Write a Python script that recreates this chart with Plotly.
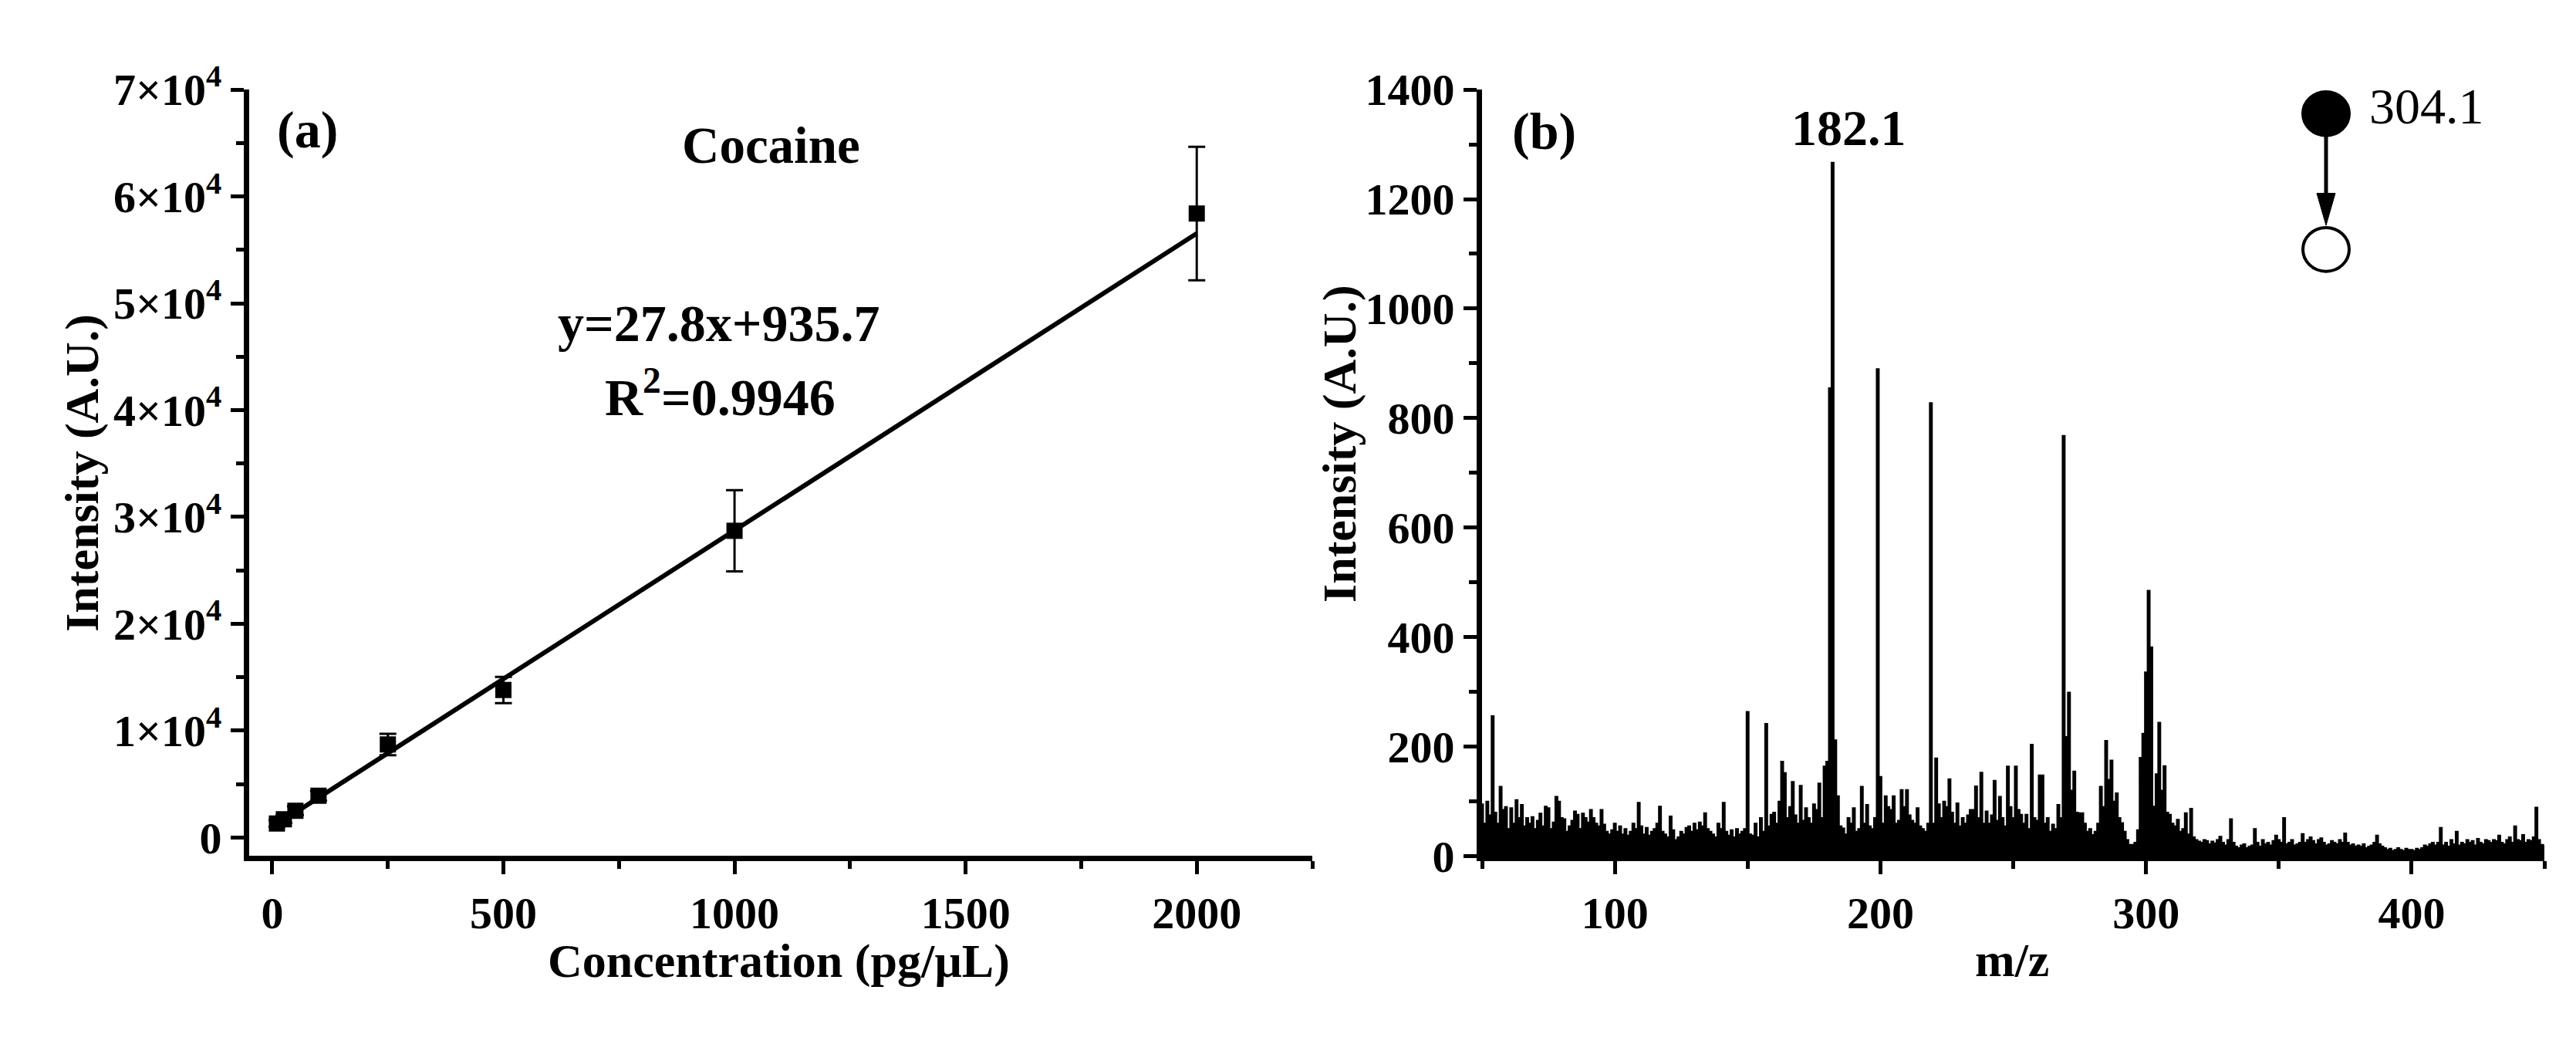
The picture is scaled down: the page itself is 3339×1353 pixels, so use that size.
import plotly.graph_objects as go

W, H = 3339, 1353
FONT = "Liberation Serif"

# ---------------- Panel (a): calibration curve ----------------
conc = [10, 25, 50, 100, 250, 500, 1000, 2000]
intensity_a = [1300, 1700, 2500, 3900, 8700, 13800, 28700, 58400]
error_a = [300, 350, 400, 450, 1000, 1230, 3800, 6250]
fit_x = [5, 2000]
fit_y = [1075, 56536]

ya_tickvals = [0, 10000, 20000, 30000, 40000, 50000, 60000, 70000]
ya_ticktext = ["0", "1×10<sup>4</sup>", "2×10<sup>4</sup>", "3×10<sup>4</sup>",
               "4×10<sup>4</sup>", "5×10<sup>4</sup>", "6×10<sup>4</sup>", "7×10<sup>4</sup>"]
xa_tickvals = [0, 500, 1000, 1500, 2000]
xa_minor = [250, 750, 1250, 1750, 2250]
ya_minor = [5000, 15000, 25000, 35000, 45000, 55000, 65000]

# ---------------- Panel (b): MS/MS spectrum ----------------
mz_first = 50
spec_rows = [
    [95, 60, 100, 75, 256, 80, 60, 127, 85, 90],      # 50
    [50, 88, 60, 103, 70, 94, 55, 70, 60, 72],        # 60
    [50, 65, 78, 55, 91, 88, 50, 62, 109, 100],       # 70
    [70, 68, 45, 55, 65, 82, 76, 50, 78, 70],         # 80
    [62, 85, 70, 60, 55, 85, 58, 45, 40, 48],         # 90
    [60, 45, 55, 40, 50, 38, 45, 60, 50, 98],         # 100
    [55, 40, 52, 38, 45, 50, 60, 91, 45, 40],         # 110
    [35, 73, 48, 30, 35, 45, 40, 52, 55, 45],         # 120
    [60, 48, 62, 55, 79, 50, 45, 40, 35, 60],         # 130
    [50, 98, 45, 38, 48, 35, 50, 40, 45, 50],         # 140
    [264, 40, 38, 60, 35, 70, 45, 242, 55, 76],       # 150
    [80, 60, 100, 173, 152, 70, 90, 136, 75, 60],     # 160
    [129, 65, 88, 70, 60, 95, 85, 133, 70, 164],      # 170
    [173, 855, 1267, 212, 110, 55, 51, 40, 70, 60],   # 180
    [88, 45, 50, 127, 60, 94, 55, 50, 70, 890],       # 190
    [145, 60, 110, 90, 85, 110, 60, 65, 121, 90],     # 200
    [121, 75, 65, 60, 88, 55, 50, 45, 60, 828],       # 210
    [60, 179, 95, 70, 100, 90, 141, 80, 60, 97],      # 220
    [55, 70, 60, 75, 85, 85, 128, 70, 153, 60],       # 230
    [82, 60, 75, 138, 65, 109, 70, 55, 164, 90],      # 240
    [70, 164, 85, 76, 60, 76, 50, 204, 70, 65],       # 250
    [148, 148, 60, 70, 45, 58, 50, 94, 70, 768],      # 260
    [218, 299, 120, 155, 80, 79, 79, 60, 45, 50],     # 270
    [39, 45, 60, 127, 90, 211, 140, 175, 100, 115],   # 280
    [70, 61, 45, 30, 21, 21, 25, 48, 180, 224],       # 290
    [336, 485, 382, 91, 150, 244, 120, 165, 80, 76],  # 300
    [60, 55, 67, 45, 50, 79, 40, 87, 35, 30],         # 310
    [27, 25, 30, 28, 22, 27, 24, 30, 36, 25],         # 320
    [20, 30, 68, 25, 18, 15, 20, 22, 15, 18],         # 330
    [20, 50, 25, 18, 30, 22, 25, 20, 28, 38],         # 340
    [30, 25, 70, 22, 25, 30, 20, 22, 25, 41],         # 350
    [25, 30, 35, 28, 22, 30, 33, 25, 20, 22],         # 360
    [28, 25, 22, 30, 25, 42, 25, 20, 22, 18],         # 370
    [20, 18, 22, 15, 18, 20, 25, 38, 22, 18],         # 380
    [15, 12, 14, 10, 12, 15, 12, 10, 14, 12],         # 390
    [12, 10, 14, 12, 15, 20, 18, 22, 25, 20],         # 400
    [25, 52, 20, 25, 18, 30, 22, 45, 20, 25],         # 410
    [22, 30, 25, 28, 20, 32, 25, 22, 30, 28],         # 420
    [25, 30, 28, 38, 25, 22, 30, 35, 25, 55],         # 430
    [30, 28, 39, 25, 30, 28, 35, 89, 30, 21],         # 440
    [20],                                             # 450
]
spec_intensity = [v for row in spec_rows for v in row]
mz = list(range(mz_first, mz_first + len(spec_intensity)))

xb_tickvals = [100, 200, 300, 400]
xb_minor = [50, 150, 250, 350, 450]
yb_tickvals = [0, 200, 400, 600, 800, 1000, 1200, 1400]
yb_minor = [100, 300, 500, 700, 900, 1100, 1300]

# ---------------- helpers (pixel -> paper) ----------------
def fx(px):
    return px / W

def fy(py):
    return 1 - py / H

AX_LEFT_A, AX_RIGHT_A = 315, 1693
AX_LEFT_B, AX_RIGHT_B = 1913, 3290
AX_TOP, AX_BOTTOM = 72, 1122

fig = go.Figure()

fig.add_trace(go.Scatter(
    x=fit_x, y=fit_y, mode="lines",
    line=dict(color="black", width=6),
    xaxis="x", yaxis="y", showlegend=False, hoverinfo="skip"))

fig.add_trace(go.Scatter(
    x=conc, y=intensity_a, mode="markers",
    marker=dict(symbol="square", size=21, color="black"),
    error_y=dict(type="data", array=error_a, visible=True,
                 color="black", thickness=3, width=11),
    xaxis="x", yaxis="y", showlegend=False))

fig.add_trace(go.Scatter(
    x=mz, y=spec_intensity, mode="lines",
    line=dict(color="black", width=1.5, shape="hvh"),
    fill="tozeroy", fillcolor="black",
    xaxis="x2", yaxis="y2", showlegend=False))

tickfont = dict(family=FONT, size=58, color="black", weight="bold")
common = dict(showline=True, linewidth=7, linecolor="black", mirror=False,
              ticks="outside", ticklen=17, tickwidth=5, tickcolor="black",
              showgrid=False, zeroline=False, tickfont=tickfont)
minor_style = dict(ticks="outside", ticklen=10, tickwidth=5, tickcolor="black", showgrid=False)

fig.update_layout(
    width=W, height=H,
    margin=dict(l=0, r=0, t=0, b=0),
    paper_bgcolor="white", plot_bgcolor="white",
    showlegend=False,
    xaxis=dict(domain=[fx(AX_LEFT_A), fx(AX_RIGHT_A)], range=[-50, 2250], anchor="y",
               tickmode="array", tickvals=xa_tickvals,
               minor=dict(tickvals=xa_minor, **minor_style), **common),
    yaxis=dict(domain=[fy(AX_BOTTOM), fy(AX_TOP)], range=[-1750, 70000], anchor="x",
               tickmode="array", tickvals=ya_tickvals, ticktext=ya_ticktext,
               minor=dict(tickvals=ya_minor, **minor_style), **common),
    xaxis2=dict(domain=[fx(AX_LEFT_B), fx(AX_RIGHT_B)], range=[50, 450], anchor="y2",
                tickmode="array", tickvals=xb_tickvals,
                minor=dict(tickvals=xb_minor, **minor_style), **common),
    yaxis2=dict(domain=[fy(AX_BOTTOM), fy(AX_TOP)], range=[0, 1400], anchor="x2",
                tickmode="array", tickvals=yb_tickvals,
                minor=dict(tickvals=yb_minor, **minor_style), **common),
)

def label(text, px, py, size=66, bold=True, angle=0):
    fig.add_annotation(
        text=text, x=fx(px), y=fy(py), xref="paper", yref="paper",
        xanchor="center", yanchor="middle", showarrow=False, textangle=angle,
        font=dict(family=FONT, size=size, color="black",
                  weight="bold" if bold else "normal"))

label("(a)", 390, 127, 68)
label("Cocaine", 991, 148, 67)
label("y=27.8x+935.7", 924, 392, 68)
label("R<sup>2</sup>=0.9946", 925, 488, 68)
label("Concentration (pg/µL)", 1001, 1266, 62)
label("Intensity (A.U.)", 99, 597, 62, angle=-90)

label("(b)", 1993, 129, 68)
label("182.1", 2388, 124, 66)
label("304.1", 3137, 95, 66, bold=False)
label("m/z", 2600, 1264, 62)
label("Intensity (A.U.)", 1729, 557, 62, angle=-90)

# fragmentation scheme (filled precursor -> arrow -> open product)
fig.add_shape(type="circle", xref="paper", yref="paper",
              x0=fx(2976), x1=fx(3038), y0=fy(136), y1=fy(74),
              fillcolor="black", line=dict(color="black", width=2))
fig.add_shape(type="line", xref="paper", yref="paper",
              x0=fx(3007), x1=fx(3007), y0=fy(136), y1=fy(218),
              line=dict(color="black", width=5))
fig.add_shape(type="path", xref="paper", yref="paper",
              path=f"M {fx(2995)} {fy(214)} L {fx(3019)} {fy(214)} L {fx(3007)} {fy(258)} Z",
              fillcolor="black", line=dict(color="black", width=1))
fig.add_shape(type="circle", xref="paper", yref="paper",
              x0=fx(2977), x1=fx(3037), y0=fy(321), y1=fy(261),
              fillcolor="white", line=dict(color="black", width=4))

fig.write_html("out.html", config={"displayModeBar": False})
